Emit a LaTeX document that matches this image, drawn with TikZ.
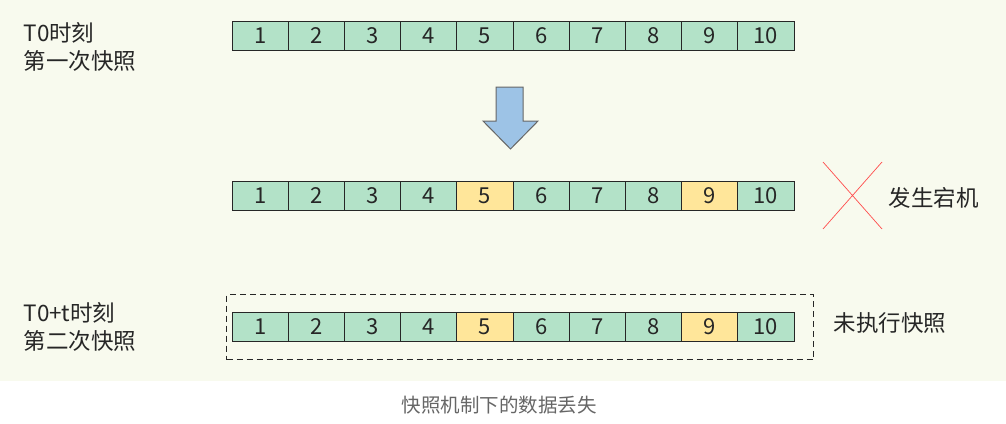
\documentclass[tikz,border=0pt]{standalone}
\usepackage{fontspec}
\setmainfont{Noto Sans CJK SC}
\begin{document}
\begin{tikzpicture}[x=1pt,y=-1pt,
  cell/.style={draw=black!85,line width=1.1pt,minimum width=56.2pt,minimum height=29pt,inner sep=0pt,text height=15.5pt,text depth=0pt,anchor=north west,font=\fontsize{22}{22}\selectfont,text=black!85},
  lbl/.style={font=\fontsize{22.5}{28}\selectfont,text=black!85,align=left},
]
\definecolor{bg}{HTML}{F8FAEE}
\definecolor{cg}{HTML}{B3E2C8}
\definecolor{cy}{HTML}{FFE69A}
\definecolor{ab}{HTML}{9DC3E6}
\useasboundingbox (0,0) rectangle (1006,423);
\fill[bg] (0,0) rectangle (1006,381);
% rows
\foreach \r/\y in {a/21,b/181,c/312}{
  \foreach \i in {1,...,10}{
    \node[cell,fill=cg] (\r\i) at ({231.5+(\i-1)*56.2},\y) {\i};
  }
}
\foreach \r in {b,c}{
  \node[cell,fill=cy] at (\r5.north west) {5};
  \node[cell,fill=cy] at (\r9.north west) {9};
}
% arrow
\draw[fill=ab,draw=black!60,line width=1pt,line join=miter]
  (496,87) -- (523,87) -- (523,121) -- (538,121) -- (510.5,149) -- (483,121) -- (496,121) -- cycle;
% dashed box
\node[draw=black!85,dash pattern=on 6pt off 4pt,line width=1.1pt,minimum width=587pt,minimum height=65pt,anchor=north west,inner sep=0pt] (box) at (226,294) {};
% red cross
\coordinate (x1) at (823,162);
\coordinate (x2) at (882,229);
\coordinate (x3) at (882,162);
\coordinate (x4) at (823,229);
\draw[red!70,line width=0.7pt] (x1) -- (x2) (x3) -- (x4);
% labels
\node[lbl,anchor=west] (l1) at (20,47) {T0时刻\\第一次快照};
\node[lbl,anchor=west] (l2) at (20,327) {T0+t时刻\\第二次快照};
\node[lbl,anchor=west] (l3) at (885,198) {发生宕机};
\node[lbl,anchor=west] (l4) at (830,323) {未执行快照};
\node[font=\fontsize{19.5}{19.5}\selectfont,text=black!60] (cap) at (499,405) {快照机制下的数据丢失};
\end{tikzpicture}
\end{document}
